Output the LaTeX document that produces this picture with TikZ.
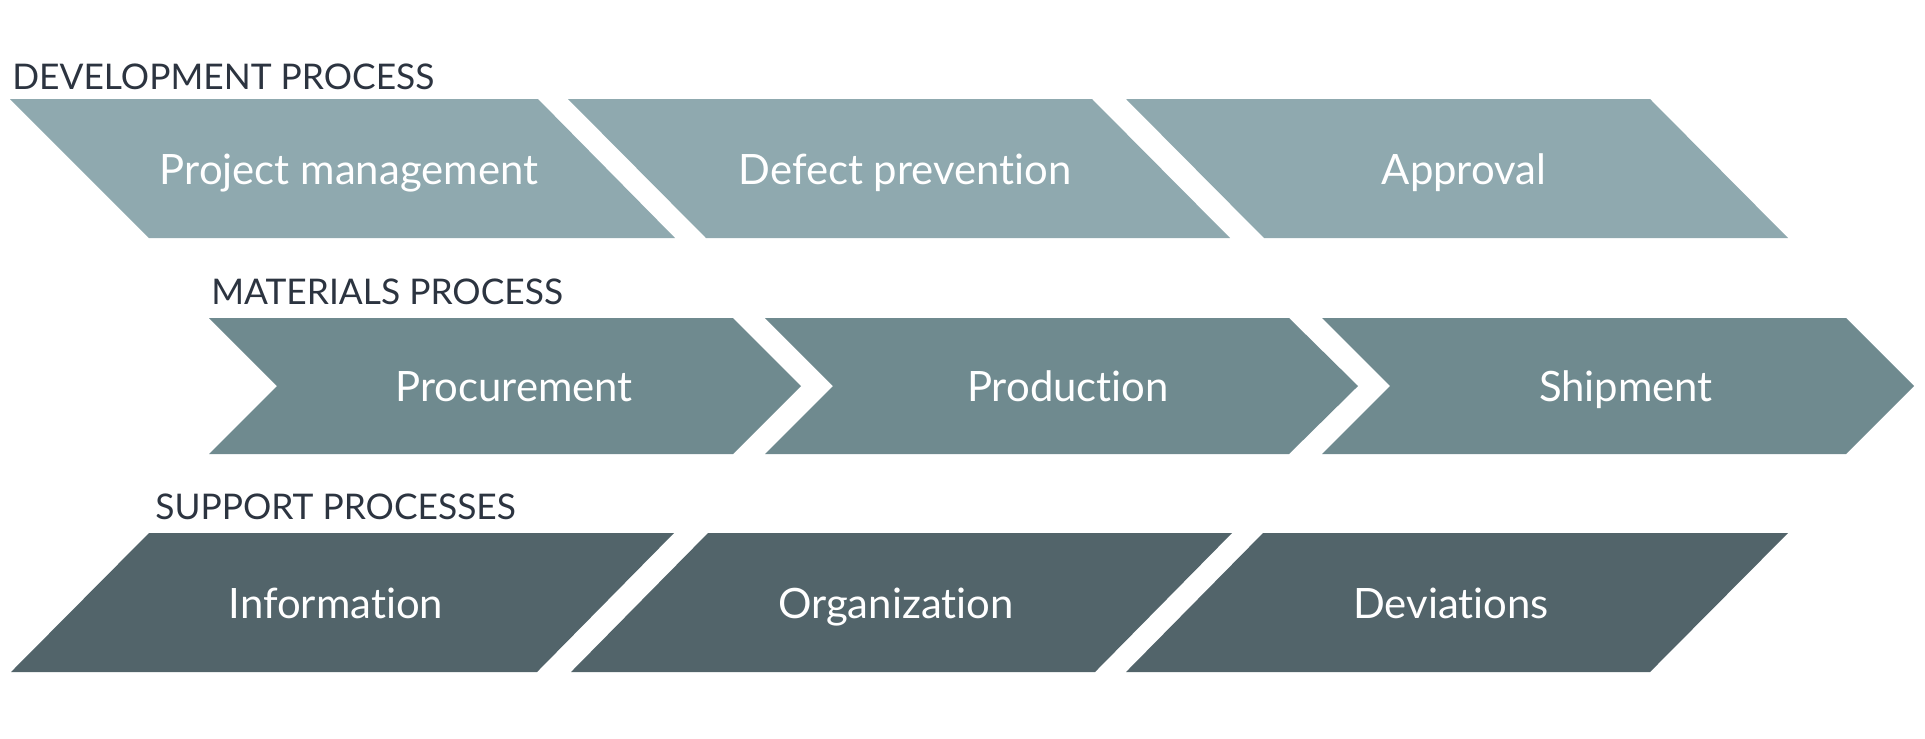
\documentclass[tikz,border=0pt]{standalone}
\usepackage{fontspec}
\setmainfont{Lato}[Ligatures=NoCommon]
\usetikzlibrary{positioning}
\definecolor{devcol}{HTML}{8FA9AF}
\definecolor{matcol}{HTML}{6F8A8F}
\definecolor{supcol}{HTML}{52646A}
\definecolor{headcol}{HTML}{2C3440}
\tikzset{
  every picture/.style={line width=0.75pt},
  heading/.style={anchor=base west,inner sep=0pt,text=headcol,font=\fontsize{10.05pt}{12pt}\selectfont},
  boxlabel/.style={anchor=base,inner sep=0pt,text=white,font=\fontsize{11.9pt}{14pt}\selectfont}
}

\begin{document}
\begin{tikzpicture}[x=0.01cm,y=-0.01cm]
    \useasboundingbox (0,0) rectangle (1925,738);
    % 开发过程
    \node[heading] (devhead) at (11,89) {DEVELOPMENT PROCESS};
    \fill[devcol] (10,99) -- (538,99) -- (675,238) -- (149,238) -- cycle;
    \fill[devcol] (568,99) -- (1092,99) -- (1230,238) -- (706,238) -- cycle;
    \fill[devcol] (1126,99) -- (1650,99) -- (1788,238) -- (1264,238) -- cycle;
    \node[boxlabel] (projmgmt) at (349,184) {Project management};
    \node[boxlabel] (defect) at (905,184) {Defect prevention};
    \node[boxlabel] (approval) at (1464,184) {Approval};
    % 物料过程
    \node[heading] (mathead) at (210,304.5) {MATERIALS PROCESS};
    \fill[matcol] (209,318) -- (733,318) -- (801,386) -- (733,454) -- (209,454) -- (277,386) -- cycle;
    \fill[matcol] (765,318) -- (1289,318) -- (1358,386) -- (1289,454) -- (765,454) -- (833,386) -- cycle;
    \fill[matcol] (1322,318) -- (1846,318) -- (1914,386) -- (1846,454) -- (1322,454) -- (1390,386) -- cycle;
    \node[boxlabel] (procure) at (514,401) {Procurement};
    \node[boxlabel] (production) at (1068,401) {Production};
    \node[boxlabel] (shipment) at (1626,401) {Shipment};
    % 支持过程
    \node[heading] (suphead) at (154,519.5) {SUPPORT PROCESSES};
    \fill[supcol] (149,533) -- (674,533) -- (537,672) -- (11,672) -- cycle;
    \fill[supcol] (708,533) -- (1232,533) -- (1095,672) -- (571,672) -- cycle;
    \fill[supcol] (1263,533) -- (1788,533) -- (1650,672) -- (1126,672) -- cycle;
    \node[boxlabel] (info) at (336,618) {Information};
    \node[boxlabel] (organiz) at (896,618) {Organization};
    \node[boxlabel] (deviations) at (1451,618) {Deviations};
\end{tikzpicture}
\end{document}
